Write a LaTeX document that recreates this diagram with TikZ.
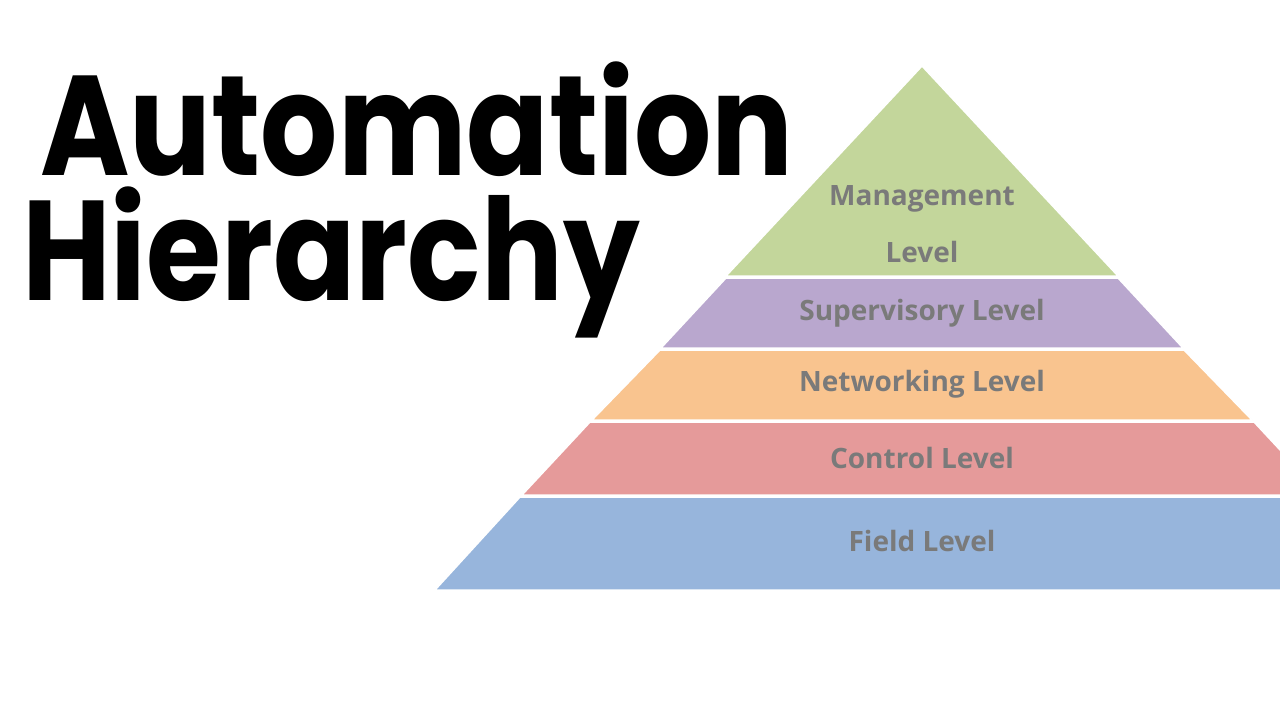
\documentclass[tikz,border=0pt]{standalone}
\usepackage{fontspec}
\setmainfont{Poppins}
\newfontfamily\levelfont{Open Sans}
\usetikzlibrary{positioning}
\definecolor{mgmt}{HTML}{C3D69B}
\definecolor{superv}{HTML}{B9A7CE}
\definecolor{netw}{HTML}{F9C48F}
\definecolor{ctrl}{HTML}{E59A9A}
\definecolor{field}{HTML}{97B5DC}
\definecolor{labelgray}{HTML}{7A7A7A}
\tikzset{
  layer/.style={draw=white, line width=1.5pt},
  levellabel/.style={text=labelgray, font=\levelfont\bfseries\fontsize{28}{57}\selectfont, align=center},
  titletext/.style={font=\bfseries\fontsize{142}{140}\selectfont, anchor=base west, inner sep=0pt, xscale=0.855}
}
\begin{document}
\begin{tikzpicture}[x=1pt,y=-1pt]
\useasboundingbox (0,0) rectangle (1280,720);
\begin{scope}
\clip (0,0) rectangle (1280,720);
\fill[white] (0,0) rectangle (1280,720);
% pyramid layers
\fill[field, layer] (520,497) -- (1324,497) -- (1409,590) -- (435,590) -- cycle;
\fill[ctrl, layer] (590,422) -- (1254,422) -- (1322,495) -- (522,495) -- cycle;
\fill[netw, layer] (660,350) -- (1184,350) -- (1252,420) -- (592,420) -- cycle;
\fill[superv, layer] (726,278) -- (1118,278) -- (1183,348) -- (661,348) -- cycle;
\fill[mgmt, layer] (922,66) -- (1118,276) -- (726,276) -- cycle;
\end{scope}
\node[levellabel] (mgmtlbl) at (922,224) {Management\\Level};
\node[levellabel] (supervlbl) at (922,313) {Supervisory Level};
\node[levellabel] (netwlbl) at (922,384) {Networking Level};
\node[levellabel] (ctrllbl) at (922,458) {Control Level};
\node[levellabel] (fieldlbl) at (922,541) {Field Level};
% title
\node[titletext] (title1) at (40,175) {Automation};
\node[titletext] (title2) at (22,300) {Hierarchy};
\end{tikzpicture}
\end{document}
